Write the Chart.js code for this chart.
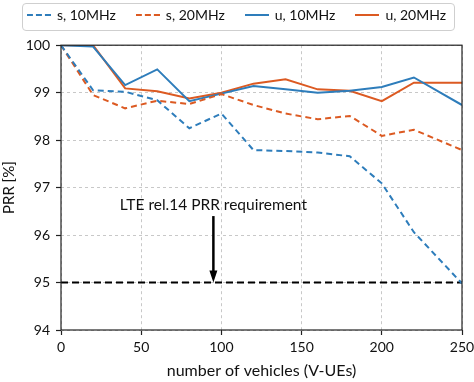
<!DOCTYPE html>
<html lang="en">
<head>
    <meta charset="UTF-8">
    <script src="https://cdn.jsdelivr.net/npm/chart.js"></script>
    <title>PRR</title>
    <style>
        body { margin: 0; background: #fff; }
        #box { position: relative; width: 474px; height: 382px; }
        #caixa {
            position: absolute;
            left: 22px; top: 3px; width: 441px; height: 28px;
            box-sizing: border-box;
            border: 1.5px solid #cfcfcf;
            border-radius: 4px;
            pointer-events: none;
        }
    </style>
</head>
<body>
    <div id="box"><canvas id="grafico"></canvas><div id="caixa"></div></div>
<script>
    // dados
    var veiculos = [0, 20, 40, 60, 80, 100, 120, 140, 160, 180, 200, 220, 250];
    var s10 = [100, 99.05, 99.02, 98.84, 98.25, 98.56, 97.79, 97.77, 97.74, 97.66, 97.09, 96.06, 94.98];
    var s20 = [100, 98.95, 98.67, 98.83, 98.76, 98.97, 98.74, 98.56, 98.44, 98.51, 98.09, 98.22, 97.79];
    var u10 = [100, 99.97, 99.16, 99.49, 98.82, 98.98, 99.14, 99.07, 99.0, 99.04, 99.12, 99.32, 98.74];
    var u20 = [100, 100, 99.09, 99.03, 98.88, 99.0, 99.19, 99.28, 99.07, 99.04, 98.82, 99.21, 99.21];
    var requisito = 95;
    var setaX = 95;
    var setaTopo = 96.4;
    var textoSeta = 'LTE rel.14 PRR requirement';

    var azul = '#2e7dbb';
    var laranja = '#dc5a22';
    var fonte = 'Lato';

    function pontos(valores) {
        var lista = [];
        for (let i = 0; i < veiculos.length; i++) {
            lista.push({ x: veiculos[i], y: valores[i] });
        }
        return lista;
    }

    // amostra da legenda (linha tracejada ou cheia)
    function amostra(cor, tracejado) {
        var c = document.createElement('canvas');
        c.width = 24;
        c.height = 4;
        var g = c.getContext('2d');
        g.strokeStyle = cor;
        g.lineWidth = 2;
        g.setLineDash(tracejado ? [6, 3] : []);
        g.beginPath();
        g.moveTo(0, 2);
        g.lineTo(24, 2);
        g.stroke();
        return c;
    }

    function serie(nome, valores, cor, tracejado) {
        return {
            label: nome,
            data: pontos(valores),
            borderColor: cor,
            backgroundColor: cor,
            borderWidth: 2,
            borderDash: tracejado ? [6, 4] : [],
            pointRadius: 0,
            pointStyle: amostra(cor, tracejado),
            fill: false,
            tension: 0
        };
    }

    // moldura + seta com texto
    const extras = {
        id: 'extras',
        afterDatasetsDraw(chart) {
            const ctx = chart.ctx;
            const a = chart.chartArea;
            const xs = chart.scales.x, ys = chart.scales.y;
            ctx.save();
            ctx.setLineDash([]);
            ctx.strokeStyle = '#222';
            ctx.lineWidth = 1.2;
            ctx.strokeRect(a.left, a.top, a.right - a.left, a.bottom - a.top);

            const px = xs.getPixelForValue(setaX);
            const topo = ys.getPixelForValue(setaTopo);
            const ponta = ys.getPixelForValue(requisito);
            ctx.strokeStyle = '#000';
            ctx.fillStyle = '#000';
            ctx.lineWidth = 2.5;
            ctx.beginPath();
            ctx.moveTo(px, topo);
            ctx.lineTo(px, ponta - 10);
            ctx.stroke();
            ctx.beginPath();
            ctx.moveTo(px - 4, ponta - 12);
            ctx.lineTo(px + 4, ponta - 12);
            ctx.lineTo(px, ponta);
            ctx.closePath();
            ctx.fill();

            ctx.font = '15.5px ' + fonte;
            ctx.textAlign = 'center';
            ctx.textBaseline = 'middle';
            ctx.fillStyle = '#111';
            ctx.fillText(textoSeta, px, topo - 11);
            ctx.restore();
        }
    };

    const dados = {
        datasets: [
            serie('s, 10MHz', s10, azul, true),
            serie('s, 20MHz', s20, laranja, true),
            serie('u, 10MHz', u10, azul, false),
            serie('u, 20MHz', u20, laranja, false),
            {
                label: 'req',
                data: [{ x: 0, y: requisito }, { x: 250, y: requisito }],
                borderColor: '#000',
                borderWidth: 2,
                borderDash: [7, 4],
                pointRadius: 0,
                fill: false
            }
        ]
    };

    const config = {
        type: 'line',
        data: dados,
        plugins: [extras],
        options: {
            responsive: true,
            maintainAspectRatio: false,
            animation: false,
            layout: { padding: { top: -13, left: 0, right: 0, bottom: 2 } },
            plugins: {
                legend: {
                    position: 'top',
                    weight: 3000,
                    labels: {
                        usePointStyle: true,
                        pointStyleWidth: 22,
                        padding: 21,
                        color: '#111',
                        font: { family: fonte, size: 14 },
                        filter: function (item) { return item.text != 'req'; }
                    }
                },
                title: {
                    display: true,
                    text: '',
                    font: { size: 1 },
                    padding: { top: 0, bottom: 12 }
                },
                tooltip: { enabled: false }
            },
            scales: {
                x: {
                    type: 'linear',
                    min: 0,
                    max: 250,
                    ticks: { stepSize: 50, color: '#111', padding: 4, font: { family: fonte, size: 14 } },
                    grid: { color: '#c8c8c8', lineWidth: 1, tickColor: '#222', tickLength: 5, tickWidth: 1.2 },
                    border: { display: false, dash: [3, 3] },
                    title: { display: true, text: 'number of vehicles (V-UEs)', color: '#111', padding: { top: 1, bottom: 0 }, font: { family: fonte, size: 16 } },
                    afterFit: function (escala) { escala.paddingRight = 12; }
                },
                y: {
                    min: 94,
                    max: 100,
                    ticks: { stepSize: 1, color: '#111', padding: 6, font: { family: fonte, size: 14 } },
                    grid: { color: '#c8c8c8', lineWidth: 1, tickColor: '#222', tickLength: 5, tickWidth: 1.2 },
                    border: { display: false, dash: [3, 3] },
                    title: { display: true, text: 'PRR [%]', color: '#111', padding: { top: 0, bottom: 4 }, font: { family: fonte, size: 15 } },
                    afterFit: function (escala) { escala.width = 61; }
                }
            }
        }
    };

    let ctx = document.getElementById('grafico').getContext('2d');
    let myChart = new Chart(ctx, config);

    // ajusta a caixa da legenda aos itens
    var hb = myChart.legend.legendHitBoxes || [];
    if (hb.length && isFinite(hb[0].left)) {
        var ult = hb[hb.length - 1];
        var x1 = hb[0].left - 6;
        var x2 = ult.left + ult.width + 9;
        var caixa = document.getElementById('caixa');
        caixa.style.left = x1 + 'px';
        caixa.style.width = (x2 - x1) + 'px';
    }
</script>
</body>
</html>
